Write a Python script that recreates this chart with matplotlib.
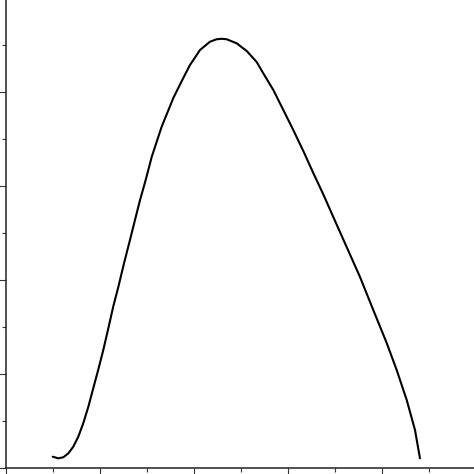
import matplotlib
matplotlib.use('Agg')
import matplotlib.pyplot as plt
from matplotlib.ticker import MultipleLocator, NullFormatter

# ----- Donnees -----
x_vals = [4.97, 5.56, 6.10, 6.63, 7.16, 7.69, 8.22, 8.76, 9.29, 9.82,
          10.35, 10.88, 11.41, 11.95, 12.55, 13.19, 13.72, 14.26, 14.86, 15.50,
          16.56, 17.80, 18.86, 19.57, 20.64, 21.70, 22.41, 22.95, 23.48, 24.54,
          25.61, 26.67, 27.37, 28.44, 29.50, 30.56, 31.63, 32.69, 33.76, 34.82,
          36.24, 37.66, 39.07, 40.50, 41.56, 42.63, 43.51, 44.04]
y_vals = [1.20, 1.03, 1.14, 1.56, 2.27, 3.33, 4.76, 6.52, 8.51, 10.48,
          12.55, 14.84, 17.18, 19.26, 21.76, 24.26, 26.38, 28.51, 30.64, 33.09,
          36.31, 39.36, 41.49, 42.87, 44.47, 45.35, 45.61, 45.66, 45.61, 45.18,
          44.36, 43.19, 41.99, 40.21, 38.09, 35.96, 33.72, 31.38, 29.10, 26.70,
          23.51, 20.32, 16.81, 13.30, 10.43, 7.23, 4.04, 1.03]

fig = plt.figure(figsize=(4.74, 4.74), dpi=100)
ax = fig.add_axes([6 / 474, 6 / 474, 1 - 6 / 474, 1 - 6 / 474])

ax.plot(x_vals, y_vals, color='black', linewidth=1.5,
        solid_joinstyle='round', solid_capstyle='round')

ax.set_xlim(0, 468 / 9.4)
ax.set_ylim(0, 468 / 9.4)

for side in ['top', 'right']:
    ax.spines[side].set_visible(False)
for side in ['left', 'bottom']:
    ax.spines[side].set_linewidth(1.1)
    ax.spines[side].set_color('#222222')

ax.xaxis.set_major_locator(MultipleLocator(10))
ax.xaxis.set_minor_locator(MultipleLocator(5))
ax.yaxis.set_major_locator(MultipleLocator(10))
ax.yaxis.set_minor_locator(MultipleLocator(5))
ax.xaxis.set_major_formatter(NullFormatter())
ax.yaxis.set_major_formatter(NullFormatter())
ax.tick_params(which='major', length=5, width=0.8, color='#333333', direction='out')
ax.tick_params(which='minor', length=3, width=0.8, color='#333333', direction='out')

fig.savefig('out.png', dpi=100)
